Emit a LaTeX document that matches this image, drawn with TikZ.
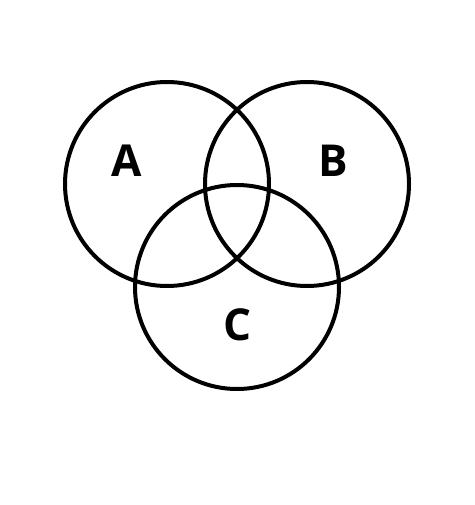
\documentclass[tikz,border=0pt]{standalone}
\usepackage{fontspec}
\setmainfont{Open Sans}
\usepackage{tikz}
\usetikzlibrary{calc}
\usepackage{xcolor}

\begin{document}
\begin{tikzpicture}[x=1pt, y=-1pt,
			set/.style={draw, circle, line width=4pt, minimum size=204pt, inner sep=0pt},
			setlabel/.style={font=\fontsize{44}{44}\selectfont\bfseries, inner sep=0pt}]
			\useasboundingbox (0,0) rectangle (474,505);
			\node[set] (setA) at (167,184) {};
			\node[set] (setB) at (307,184) {};
			\node[set] (setC) at (237,287) {};
			\node[setlabel] (labA) at (127,161) {A};
			\node[setlabel] (labB) at (333,161) {B};
			\node[setlabel] (labC) at (238,325) {C};
		\end{tikzpicture}
\end{document}
